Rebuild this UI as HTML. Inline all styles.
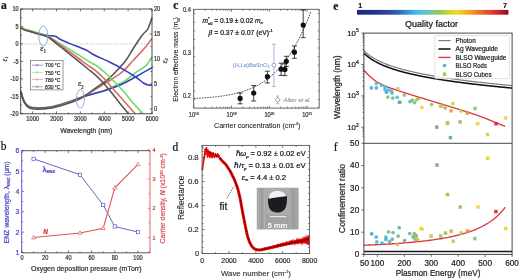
<!DOCTYPE html><html><head><meta charset="utf-8"><style>html,body{margin:0;padding:0;background:#fff;}svg{display:block;filter:blur(0.3px)} text{paint-order:stroke;stroke:currentColor;stroke-width:0.22px;stroke-linejoin:round}</style></head><body>
<svg width="520" height="279" viewBox="0 0 520 279">
<rect width="520" height="279" fill="#fff"/>
<text x="0.9" y="9.2" font-size="11.5" text-anchor="start" fill="#111" color="#111" font-family="'Liberation Serif', 'Times New Roman', serif" font-weight="bold">a</text>
<text x="0.7" y="150.2" font-size="11.5" text-anchor="start" fill="#111" color="#111" font-family="'Liberation Serif', 'Times New Roman', serif" >b</text>
<text x="173.2" y="9.4" font-size="11.5" text-anchor="start" fill="#111" color="#111" font-family="'Liberation Serif', 'Times New Roman', serif" font-weight="bold">c</text>
<text x="172.5" y="150.6" font-size="11.5" text-anchor="start" fill="#111" color="#111" font-family="'Liberation Serif', 'Times New Roman', serif" >d</text>
<text x="333.3" y="9.6" font-size="11.5" text-anchor="start" fill="#111" color="#111" font-family="'Liberation Serif', 'Times New Roman', serif" font-weight="bold">e</text>
<text x="333.8" y="150.6" font-size="11.5" text-anchor="start" fill="#111" color="#111" font-family="'Liberation Serif', 'Times New Roman', serif" >f</text>
<line x1="20.7" y1="43.93" x2="152" y2="43.93" stroke="#aaa" stroke-width="0.7" stroke-dasharray="1.5,1.5"/>
<path d="M20.7 113.8 v-1.4 M20.7 9 v1.4 M32.64 113.8 v-2.4 M32.64 9 v2.4 M44.57 113.8 v-1.4 M44.57 9 v1.4 M56.51 113.8 v-2.4 M56.51 9 v2.4 M68.45 113.8 v-1.4 M68.45 9 v1.4 M80.38 113.8 v-2.4 M80.38 9 v2.4 M92.32 113.8 v-1.4 M92.32 9 v1.4 M104.25 113.8 v-2.4 M104.25 9 v2.4 M116.19 113.8 v-1.4 M116.19 9 v1.4 M128.13 113.8 v-2.4 M128.13 9 v2.4 M140.06 113.8 v-1.4 M140.06 9 v1.4 M152 113.8 v-2.4 M152 9 v2.4 M20.7 9 h2.4 M20.7 17.73 h1.4 M20.7 26.47 h2.4 M20.7 35.2 h1.4 M20.7 43.93 h2.4 M20.7 52.67 h1.4 M20.7 61.4 h2.4 M20.7 70.13 h1.4 M20.7 78.87 h2.4 M20.7 87.6 h1.4 M20.7 96.33 h2.4 M20.7 105.07 h1.4 M20.7 113.8 h2.4 M152 109 h-2.4 M152 96.5 h-1.4 M152 84 h-2.4 M152 71.5 h-1.4 M152 59 h-2.4 M152 46.5 h-1.4 M152 34 h-2.4 M152 21.5 h-1.4 M152 9 h-2.4" stroke="#3a3a3a" stroke-width="0.7" fill="none"/>
<path d="M21 90.8 C21.25 91.8 21.83 94.88 22.5 96.8 C23.17 98.72 24.08 100.83 25 102.3 C25.92 103.77 26.78 104.77 28 105.6 C29.22 106.43 30.3 106.95 32.3 107.3 C34.3 107.65 37.05 107.77 40 107.7 C42.95 107.63 46.67 107.43 50 106.9 C53.33 106.37 56.67 105.43 60 104.5 C63.33 103.57 66.83 102.4 70 101.3 C73.17 100.2 76.33 98.9 79 97.9 C81.67 96.9 83.33 96.1 86 95.3 C88.67 94.5 91.77 94.02 95 93.12 C98.23 92.22 102.07 91.15 105.4 89.9 C108.73 88.65 111.9 87.02 115 85.6 C118.1 84.18 120.45 83.63 124 81.4 C127.55 79.17 132.68 74.8 136.3 72.2 C139.92 69.6 143.3 67.95 145.7 65.8 C148.1 63.65 149.65 60.85 150.7 59.3 C151.75 57.75 151.78 56.97 152 56.5" stroke="#62dc62" stroke-width="1.55" fill="none" stroke-linejoin="round"/>
<path d="M21 91.25 C21.25 92.25 21.83 95.33 22.5 97.25 C23.17 99.17 24.08 101.28 25 102.75 C25.92 104.22 26.78 105.22 28 106.05 C29.22 106.88 30.3 107.4 32.3 107.75 C34.3 108.1 37.05 108.22 40 108.15 C42.95 108.08 46.67 107.88 50 107.35 C53.33 106.82 56.67 105.88 60 104.95 C63.33 104.02 66.83 102.85 70 101.75 C73.17 100.65 76.33 99.32 79 98.35 C81.67 97.38 82.83 96.92 86 95.95 C89.17 94.98 94.05 93.71 98 92.55 C101.95 91.39 105.37 90.56 109.7 89 C114.03 87.44 119.57 85.28 124 83.2 C128.43 81.12 131.73 79.05 136.3 76.5 C140.87 73.95 148.78 69.38 151.4 67.9 C154.02 66.42 151.9 67.65 152 67.6" stroke="#3b3bc4" stroke-width="1.55" fill="none" stroke-linejoin="round"/>
<path d="M21 91.8 C21.25 92.8 21.83 95.88 22.5 97.8 C23.17 99.72 24.08 101.83 25 103.3 C25.92 104.77 26.78 105.77 28 106.6 C29.22 107.43 30.3 107.95 32.3 108.3 C34.3 108.65 37.05 108.77 40 108.7 C42.95 108.63 46.67 108.43 50 107.9 C53.33 107.37 56.67 106.43 60 105.5 C63.33 104.57 66.83 103.4 70 102.3 C73.17 101.2 76.33 100.1 79 98.9 C81.67 97.7 83.67 96.46 86 95.1 C88.33 93.74 90.47 92.31 93 90.76 C95.53 89.21 98.03 87.76 101.2 85.8 C104.37 83.84 108.4 81.38 112 79 C115.6 76.62 119.23 74.63 122.8 71.5 C126.37 68.37 129.82 64.02 133.4 60.2 C136.98 56.38 141.4 51.97 144.3 48.6 C147.2 45.23 149.52 41.68 150.8 40 C152.08 38.32 151.8 38.75 152 38.5" stroke="#e06464" stroke-width="1.55" fill="none" stroke-linejoin="round"/>
<path d="M21 92.2 C21.25 93.2 21.83 96.28 22.5 98.2 C23.17 100.12 24.08 102.23 25 103.7 C25.92 105.17 26.78 106.17 28 107 C29.22 107.83 30.3 108.35 32.3 108.7 C34.3 109.05 37.05 109.17 40 109.1 C42.95 109.03 46.67 108.83 50 108.3 C53.33 107.77 56.67 106.83 60 105.9 C63.33 104.97 66.83 103.8 70 102.7 C73.17 101.6 76.33 100.6 79 99.3 C81.67 98 83.67 96.47 86 94.9 C88.33 93.33 90.47 91.66 93 89.87 C95.53 88.09 98.7 85.96 101.2 84.2 C103.7 82.44 105.53 81.42 108 79.3 C110.47 77.18 113 74.68 116 71.5 C119 68.32 123.07 64.12 126 60.2 C128.93 56.28 130.9 52.15 133.6 48 C136.3 43.85 139.87 38.42 142.2 35.3 C144.53 32.18 146.17 31.65 147.6 29.3 C149.03 26.95 150.07 23.17 150.8 21.2 C151.53 19.23 151.8 18.12 152 17.5" stroke="#545454" stroke-width="1.55" fill="none" stroke-linejoin="round"/>
<path d="M21 27 C21.5 27.35 22.5 28.47 24 29.1 C25.5 29.73 27.33 30.02 30 30.8 C32.67 31.58 37 33.03 40 33.8 C43 34.57 45.83 35.11 48 35.44 C50.17 35.77 51.58 35.59 53 35.81 C54.42 36.03 55.33 36.19 56.5 36.75 C57.67 37.32 57.75 38.06 60 39.2 C62.25 40.34 65.67 41.8 70 43.6 C74.33 45.4 81.95 48.1 86 50 C90.05 51.9 90.3 52.97 94.3 55 C98.3 57.03 105.38 59.93 110 62.2 C114.62 64.47 117.85 66.22 122 68.6 C126.15 70.98 131.32 74.1 134.9 76.5 C138.48 78.9 141.23 81.58 143.5 83 C145.77 84.42 147.08 84.65 148.5 85 C149.92 85.35 151.42 85.08 152 85.1" stroke="#3b3bc4" stroke-width="1.55" fill="none" stroke-linejoin="round"/>
<path d="M21 26.7 C21.5 27.05 22.5 28.17 24 28.8 C25.5 29.43 27.33 29.72 30 30.5 C32.67 31.28 37 32.57 40 33.5 C43 34.43 44.67 34.42 48 36.1 C51.33 37.78 56.33 41.35 60 43.6 C63.67 45.85 66.67 47.57 70 49.6 C73.33 51.63 76.67 53.7 80 55.8 C83.33 57.9 87.5 60.7 90 62.2 C92.5 63.7 93.33 63.78 95 64.8 C96.67 65.82 97.5 66.23 100 68.3 C102.5 70.37 106.05 73.33 110 77.2 C113.95 81.07 119.87 87.2 123.7 91.5 C127.53 95.8 129.77 99.28 133 103 C136.23 106.72 141.42 112 143.1 113.8" stroke="#62dc62" stroke-width="1.55" fill="none" stroke-linejoin="round"/>
<path d="M21 27.45 C21.5 27.8 22.5 28.92 24 29.55 C25.5 30.18 27.33 30.47 30 31.25 C32.67 32.03 37 33.34 40 34.25 C43 35.16 44.67 34.91 48 36.7 C51.33 38.49 56.33 42.42 60 45 C63.67 47.58 66.67 49.78 70 52.2 C73.33 54.62 77 57.32 80 59.5 C83 61.68 85.5 63.52 88 65.3 C90.5 67.08 92.33 68 95 70.2 C97.67 72.4 100.67 75.03 104 78.5 C107.33 81.97 111.5 87.05 115 91 C118.5 94.95 121.58 98.37 125 102.2 C128.42 106.03 133.75 112.03 135.5 114" stroke="#e06464" stroke-width="1.55" fill="none" stroke-linejoin="round"/>
<path d="M21 27.8 C21.5 28.15 22.5 29.27 24 29.9 C25.5 30.53 27.33 30.82 30 31.6 C32.67 32.38 37 33.7 40 34.6 C43 35.5 44.67 35 48 36.98 C51.33 38.96 56.33 43.61 60 46.5 C63.67 49.39 66.67 51.65 70 54.3 C73.33 56.95 77 59.95 80 62.4 C83 64.85 85.5 66.97 88 69 C90.5 71.03 92.67 72.52 95 74.6 C97.33 76.68 99.33 78.6 102 81.5 C104.67 84.4 108 88.35 111 92 C114 95.65 117.05 99.73 120 103.4 C122.95 107.07 127.25 112.23 128.7 114" stroke="#545454" stroke-width="1.55" fill="none" stroke-linejoin="round"/>
<rect x="20.7" y="9" width="131.3" height="104.8" fill="none" stroke="#3a3a3a" stroke-width="0.9"/>
<ellipse cx="43.3" cy="36" rx="4.5" ry="10" fill="none" stroke="#88a4cc" stroke-width="0.9"/>
<ellipse cx="80.4" cy="98.9" rx="4" ry="9.3" fill="none" stroke="#88a4cc" stroke-width="0.9"/>
<text x="40.3" y="50.9" font-size="8" text-anchor="start" fill="#333" color="#333" font-family="'Liberation Serif', 'Times New Roman', serif" font-style="italic">&#949;<tspan font-size="5.2" dy="2.3" font-style="normal">1</tspan></text>
<text x="77.9" y="86.2" font-size="8" text-anchor="start" fill="#333" color="#333" font-family="'Liberation Serif', 'Times New Roman', serif" font-style="italic">&#949;<tspan font-size="5.2" dy="2.3" font-style="normal">2</tspan></text>
<rect x="30.5" y="60.3" width="32.5" height="29.6" fill="#fff" stroke="#555" stroke-width="0.6"/>
<line x1="31.8" y1="65.2" x2="43" y2="65.2" stroke="#3b3bc4" stroke-width="0.7" opacity="0.75"/>
<rect x="36.3" y="64.3" width="1.8" height="1.8" fill="none" stroke="#3b3bc4" stroke-width="0.4" opacity="0.6"/>
<text x="45.1" y="67.3" font-size="6" text-anchor="start" fill="#222" color="#222" font-family="'Liberation Sans', Arial, sans-serif"  textLength="15.4" lengthAdjust="spacingAndGlyphs">700 &#176;C</text>
<line x1="31.8" y1="72.4" x2="43" y2="72.4" stroke="#62dc62" stroke-width="0.7" opacity="0.75"/>
<rect x="36.3" y="71.5" width="1.8" height="1.8" fill="none" stroke="#62dc62" stroke-width="0.4" opacity="0.6"/>
<text x="45.1" y="74.5" font-size="6" text-anchor="start" fill="#222" color="#222" font-family="'Liberation Sans', Arial, sans-serif"  textLength="15.4" lengthAdjust="spacingAndGlyphs">750 &#176;C</text>
<line x1="31.8" y1="79.6" x2="43" y2="79.6" stroke="#e06464" stroke-width="0.7" opacity="0.75"/>
<rect x="36.3" y="78.7" width="1.8" height="1.8" fill="none" stroke="#e06464" stroke-width="0.4" opacity="0.6"/>
<text x="45.1" y="81.7" font-size="6" text-anchor="start" fill="#222" color="#222" font-family="'Liberation Sans', Arial, sans-serif"  textLength="15.4" lengthAdjust="spacingAndGlyphs">780 &#176;C</text>
<line x1="31.8" y1="86.8" x2="43" y2="86.8" stroke="#545454" stroke-width="0.7" opacity="0.75"/>
<rect x="36.3" y="85.9" width="1.8" height="1.8" fill="none" stroke="#545454" stroke-width="0.4" opacity="0.6"/>
<text x="45.1" y="88.9" font-size="6" text-anchor="start" fill="#222" color="#222" font-family="'Liberation Sans', Arial, sans-serif"  textLength="15.4" lengthAdjust="spacingAndGlyphs">830 &#176;C</text>
<text x="12.38" y="11.3" font-size="6.4" text-anchor="start" fill="#333" color="#333" font-family="'Liberation Sans', Arial, sans-serif"  textLength="6.22" lengthAdjust="spacingAndGlyphs">10</text>
<text x="15.49" y="28.77" font-size="6.4" text-anchor="start" fill="#333" color="#333" font-family="'Liberation Sans', Arial, sans-serif"  textLength="3.11" lengthAdjust="spacingAndGlyphs">5</text>
<text x="15.49" y="46.23" font-size="6.4" text-anchor="start" fill="#333" color="#333" font-family="'Liberation Sans', Arial, sans-serif"  textLength="3.11" lengthAdjust="spacingAndGlyphs">0</text>
<text x="13.62" y="63.7" font-size="6.4" text-anchor="start" fill="#333" color="#333" font-family="'Liberation Sans', Arial, sans-serif"  textLength="4.98" lengthAdjust="spacingAndGlyphs">-5</text>
<text x="10.51" y="81.17" font-size="6.4" text-anchor="start" fill="#333" color="#333" font-family="'Liberation Sans', Arial, sans-serif"  textLength="8.09" lengthAdjust="spacingAndGlyphs">-10</text>
<text x="10.51" y="98.63" font-size="6.4" text-anchor="start" fill="#333" color="#333" font-family="'Liberation Sans', Arial, sans-serif"  textLength="8.09" lengthAdjust="spacingAndGlyphs">-15</text>
<text x="10.51" y="116.1" font-size="6.4" text-anchor="start" fill="#333" color="#333" font-family="'Liberation Sans', Arial, sans-serif"  textLength="8.09" lengthAdjust="spacingAndGlyphs">-20</text>
<text x="154" y="11.3" font-size="6.4" text-anchor="start" fill="#333" color="#333" font-family="'Liberation Sans', Arial, sans-serif"  textLength="6.22" lengthAdjust="spacingAndGlyphs">20</text>
<text x="154" y="36.3" font-size="6.4" text-anchor="start" fill="#333" color="#333" font-family="'Liberation Sans', Arial, sans-serif"  textLength="6.22" lengthAdjust="spacingAndGlyphs">15</text>
<text x="154" y="61.3" font-size="6.4" text-anchor="start" fill="#333" color="#333" font-family="'Liberation Sans', Arial, sans-serif"  textLength="6.22" lengthAdjust="spacingAndGlyphs">10</text>
<text x="154" y="86.3" font-size="6.4" text-anchor="start" fill="#333" color="#333" font-family="'Liberation Sans', Arial, sans-serif"  textLength="3.11" lengthAdjust="spacingAndGlyphs">5</text>
<text x="154" y="111.3" font-size="6.4" text-anchor="start" fill="#333" color="#333" font-family="'Liberation Sans', Arial, sans-serif"  textLength="3.11" lengthAdjust="spacingAndGlyphs">0</text>
<text x="26.34" y="121" font-size="6.4" text-anchor="start" fill="#333" color="#333" font-family="'Liberation Sans', Arial, sans-serif"  textLength="12.6" lengthAdjust="spacingAndGlyphs">1000</text>
<text x="50.21" y="121" font-size="6.4" text-anchor="start" fill="#333" color="#333" font-family="'Liberation Sans', Arial, sans-serif"  textLength="12.6" lengthAdjust="spacingAndGlyphs">2000</text>
<text x="74.08" y="121" font-size="6.4" text-anchor="start" fill="#333" color="#333" font-family="'Liberation Sans', Arial, sans-serif"  textLength="12.6" lengthAdjust="spacingAndGlyphs">3000</text>
<text x="97.95" y="121" font-size="6.4" text-anchor="start" fill="#333" color="#333" font-family="'Liberation Sans', Arial, sans-serif"  textLength="12.6" lengthAdjust="spacingAndGlyphs">4000</text>
<text x="121.83" y="121" font-size="6.4" text-anchor="start" fill="#333" color="#333" font-family="'Liberation Sans', Arial, sans-serif"  textLength="12.6" lengthAdjust="spacingAndGlyphs">5000</text>
<text x="145.7" y="121" font-size="6.4" text-anchor="start" fill="#333" color="#333" font-family="'Liberation Sans', Arial, sans-serif"  textLength="12.6" lengthAdjust="spacingAndGlyphs">6000</text>
<text x="86.3" y="132.6" font-size="6.9" text-anchor="middle" fill="#333" color="#333" font-family="'Liberation Sans', Arial, sans-serif" >Wavelength (nm)</text>
<g transform="translate(6.8,58.9) rotate(-90)"><text x="0" y="0" font-size="7.2" text-anchor="middle" fill="#444" color="#444" font-family="'Liberation Serif', 'Times New Roman', serif" font-style="italic">&#949;<tspan font-size="4.4" dy="1.5">1</tspan></text></g>
<g transform="translate(166.6,60.8) rotate(-90)"><text x="0" y="0" font-size="7.2" text-anchor="middle" fill="#444" color="#444" font-family="'Liberation Serif', 'Times New Roman', serif" font-style="italic">&#949;<tspan font-size="4.4" dy="1.5">2</tspan></text></g>
<path d="M22 252.8 v-2.4 M22 150.7 v2.4 M33.6 252.8 v-1.4 M33.6 150.7 v1.4 M45.2 252.8 v-2.4 M45.2 150.7 v2.4 M56.8 252.8 v-1.4 M56.8 150.7 v1.4 M68.4 252.8 v-2.4 M68.4 150.7 v2.4 M80 252.8 v-1.4 M80 150.7 v1.4 M91.6 252.8 v-2.4 M91.6 150.7 v2.4 M103.2 252.8 v-1.4 M103.2 150.7 v1.4 M114.8 252.8 v-2.4 M114.8 150.7 v2.4 M126.4 252.8 v-1.4 M126.4 150.7 v1.4 M138 252.8 v-2.4 M138 150.7 v2.4 M149.6 252.8 v-1.4 M149.6 150.7 v1.4" stroke="#444" stroke-width="0.7" fill="none"/>
<path d="M21.7 150.7 h2.4 M21.7 160.88 h1.4 M21.7 171.06 h2.4 M21.7 181.24 h1.4 M21.7 191.42 h2.4 M21.7 201.6 h1.4 M21.7 211.78 h2.4 M21.7 221.96 h1.4 M21.7 232.14 h2.4 M21.7 242.32 h1.4 M21.7 252.5 h2.4" stroke="#4a4ac4" stroke-width="0.7" fill="none"/>
<path d="M150 149.7 h-2.4 M150 164.35 h-1.4 M150 179 h-2.4 M150 193.65 h-1.4 M150 208.3 h-2.4 M150 222.95 h-1.4 M150 237.6 h-2.4 M150 252.25 h-1.4" stroke="#dc5454" stroke-width="0.7" fill="none"/>
<line x1="21.7" y1="150.7" x2="150" y2="150.7" stroke="#444" stroke-width="0.9"/>
<line x1="21.7" y1="252.8" x2="150" y2="252.8" stroke="#444" stroke-width="0.9"/>
<line x1="21.7" y1="150.7" x2="21.7" y2="252.8" stroke="#4a4ac4" stroke-width="0.9"/>
<line x1="150" y1="150.7" x2="150" y2="252.8" stroke="#dc5454" stroke-width="0.9"/>
<path d="M33.6 158.84 L80 174.72 L103.2 205.06 L114.8 226.44 L138 232.14" stroke="#4a4ac4" stroke-width="0.85" fill="none"/>
<path d="M33.6 237.6 L80 232.91 L103.2 228.22 L114.8 187.79 L138 164.35" stroke="#dc5454" stroke-width="1.05" fill="none"/>
<rect x="31.95" y="157.19" width="3.3" height="3.3" fill="#fff" stroke="#4a4ac4" stroke-width="0.65"/>
<rect x="78.35" y="173.07" width="3.3" height="3.3" fill="#fff" stroke="#4a4ac4" stroke-width="0.65"/>
<rect x="101.55" y="203.41" width="3.3" height="3.3" fill="#fff" stroke="#4a4ac4" stroke-width="0.65"/>
<rect x="113.15" y="224.79" width="3.3" height="3.3" fill="#fff" stroke="#4a4ac4" stroke-width="0.65"/>
<rect x="136.35" y="230.49" width="3.3" height="3.3" fill="#fff" stroke="#4a4ac4" stroke-width="0.65"/>
<path d="M33.6 235.5 l2 3.4 h-4 z" fill="#fff" stroke="#dc5454" stroke-width="0.7"/>
<path d="M80 230.81 l2 3.4 h-4 z" fill="#fff" stroke="#dc5454" stroke-width="0.7"/>
<path d="M103.2 226.12 l2 3.4 h-4 z" fill="#fff" stroke="#dc5454" stroke-width="0.7"/>
<path d="M114.8 185.69 l2 3.4 h-4 z" fill="#fff" stroke="#dc5454" stroke-width="0.7"/>
<path d="M138 162.25 l2 3.4 h-4 z" fill="#fff" stroke="#dc5454" stroke-width="0.7"/>
<text x="42.6" y="172.4" font-size="6.6" text-anchor="start" fill="#4a4ac4" color="#4a4ac4" font-family="'Liberation Sans', Arial, sans-serif" font-weight="bold" textLength="12.5" lengthAdjust="spacingAndGlyphs">&#955;<tspan font-size="4.2" dy="0.9">ENZ</tspan></text>
<text x="43.2" y="234" font-size="6.4" text-anchor="start" fill="#c83434" color="#c83434" font-family="'Liberation Sans', Arial, sans-serif" font-weight="bold" font-style="italic">N</text>
<text x="19.4" y="153.2" font-size="7" text-anchor="end" fill="#4a4ac4" color="#4a4ac4" font-family="'Liberation Sans', Arial, sans-serif" >6</text>
<text x="19.4" y="173.56" font-size="7" text-anchor="end" fill="#4a4ac4" color="#4a4ac4" font-family="'Liberation Sans', Arial, sans-serif" >5</text>
<text x="19.4" y="193.92" font-size="7" text-anchor="end" fill="#4a4ac4" color="#4a4ac4" font-family="'Liberation Sans', Arial, sans-serif" >4</text>
<text x="19.4" y="214.28" font-size="7" text-anchor="end" fill="#4a4ac4" color="#4a4ac4" font-family="'Liberation Sans', Arial, sans-serif" >3</text>
<text x="19.4" y="234.64" font-size="7" text-anchor="end" fill="#4a4ac4" color="#4a4ac4" font-family="'Liberation Sans', Arial, sans-serif" >2</text>
<text x="19.4" y="255" font-size="7" text-anchor="end" fill="#4a4ac4" color="#4a4ac4" font-family="'Liberation Sans', Arial, sans-serif" >1</text>
<text x="152.4" y="151.6" font-size="5.3" text-anchor="start" fill="#c84040" color="#c84040" font-family="'Liberation Sans', Arial, sans-serif" >4</text>
<text x="152.4" y="180.9" font-size="5.3" text-anchor="start" fill="#c84040" color="#c84040" font-family="'Liberation Sans', Arial, sans-serif" >3</text>
<text x="152.4" y="210.2" font-size="5.3" text-anchor="start" fill="#c84040" color="#c84040" font-family="'Liberation Sans', Arial, sans-serif" >2</text>
<text x="152.4" y="239.5" font-size="5.3" text-anchor="start" fill="#c84040" color="#c84040" font-family="'Liberation Sans', Arial, sans-serif" >1</text>
<text x="20.45" y="260.2" font-size="6.5" text-anchor="start" fill="#333" color="#333" font-family="'Liberation Sans', Arial, sans-serif"  textLength="3.1" lengthAdjust="spacingAndGlyphs">0</text>
<text x="42.1" y="260.2" font-size="6.5" text-anchor="start" fill="#333" color="#333" font-family="'Liberation Sans', Arial, sans-serif"  textLength="6.2" lengthAdjust="spacingAndGlyphs">20</text>
<text x="65.3" y="260.2" font-size="6.5" text-anchor="start" fill="#333" color="#333" font-family="'Liberation Sans', Arial, sans-serif"  textLength="6.2" lengthAdjust="spacingAndGlyphs">40</text>
<text x="88.5" y="260.2" font-size="6.5" text-anchor="start" fill="#333" color="#333" font-family="'Liberation Sans', Arial, sans-serif"  textLength="6.2" lengthAdjust="spacingAndGlyphs">60</text>
<text x="111.7" y="260.2" font-size="6.5" text-anchor="start" fill="#333" color="#333" font-family="'Liberation Sans', Arial, sans-serif"  textLength="6.2" lengthAdjust="spacingAndGlyphs">80</text>
<text x="133.35" y="260.2" font-size="6.5" text-anchor="start" fill="#333" color="#333" font-family="'Liberation Sans', Arial, sans-serif"  textLength="9.3" lengthAdjust="spacingAndGlyphs">100</text>
<text x="30.9" y="271.4" font-size="6.9" text-anchor="start" fill="#333" color="#333" font-family="'Liberation Sans', Arial, sans-serif"  textLength="110.8" lengthAdjust="spacingAndGlyphs">Oxygen deposition pressure (mTorr)</text>
<g transform="translate(9.1,243.4) rotate(-90)"><text x="0" y="0" font-size="6.9" text-anchor="start" fill="#4a4ac4" color="#4a4ac4" font-family="'Liberation Sans', Arial, sans-serif"  textLength="82" lengthAdjust="spacingAndGlyphs">ENZ wavelength, &#955;<tspan font-size="4.2" dy="0.9">ENZ</tspan><tspan dy="-0.9"> (&#956;m)</tspan></text></g>
<g transform="translate(165.2,243.4) rotate(-90)"><text x="0" y="0" font-size="6.9" text-anchor="start" fill="#dc5454" color="#dc5454" font-family="'Liberation Sans', Arial, sans-serif"  textLength="90.2" lengthAdjust="spacingAndGlyphs">Carrier density, <tspan font-weight="bold" font-style="italic">N</tspan> (x10<tspan font-size="4.2" dy="-2.2">20</tspan><tspan dy="2.2"> cm</tspan><tspan font-size="4.2" dy="-2.2">-3</tspan><tspan dy="2.2">)</tspan></text></g>
<path d="M193.7 108.1 v-2.6 M193.7 9.3 v2.6 M205.08 108.1 v-1.5 M205.08 9.3 v1.5 M211.74 108.1 v-1.5 M211.74 9.3 v1.5 M216.46 108.1 v-1.5 M216.46 9.3 v1.5 M220.12 108.1 v-1.5 M220.12 9.3 v1.5 M223.11 108.1 v-1.5 M223.11 9.3 v1.5 M225.64 108.1 v-1.5 M225.64 9.3 v1.5 M227.84 108.1 v-1.5 M227.84 9.3 v1.5 M229.77 108.1 v-1.5 M229.77 9.3 v1.5 M231.5 108.1 v-2.6 M231.5 9.3 v2.6 M242.88 108.1 v-1.5 M242.88 9.3 v1.5 M249.54 108.1 v-1.5 M249.54 9.3 v1.5 M254.26 108.1 v-1.5 M254.26 9.3 v1.5 M257.92 108.1 v-1.5 M257.92 9.3 v1.5 M260.91 108.1 v-1.5 M260.91 9.3 v1.5 M263.44 108.1 v-1.5 M263.44 9.3 v1.5 M265.64 108.1 v-1.5 M265.64 9.3 v1.5 M267.57 108.1 v-1.5 M267.57 9.3 v1.5 M269.3 108.1 v-2.6 M269.3 9.3 v2.6 M280.68 108.1 v-1.5 M280.68 9.3 v1.5 M287.34 108.1 v-1.5 M287.34 9.3 v1.5 M292.06 108.1 v-1.5 M292.06 9.3 v1.5 M295.72 108.1 v-1.5 M295.72 9.3 v1.5 M298.71 108.1 v-1.5 M298.71 9.3 v1.5 M301.24 108.1 v-1.5 M301.24 9.3 v1.5 M303.44 108.1 v-1.5 M303.44 9.3 v1.5 M305.37 108.1 v-1.5 M305.37 9.3 v1.5 M307.1 108.1 v-2.6 M307.1 9.3 v2.6 M318.48 108.1 v-1.5 M318.48 9.3 v1.5 M193.7 99.6 h1.5 M319.2 99.6 h-1.5 M193.7 91 h1.5 M319.2 91 h-1.5 M193.7 82.4 h1.5 M319.2 82.4 h-1.5 M193.7 73.8 h1.5 M319.2 73.8 h-1.5 M193.7 65.2 h1.5 M319.2 65.2 h-1.5 M193.7 56.6 h1.5 M319.2 56.6 h-1.5 M193.7 48 h1.5 M319.2 48 h-1.5 M193.7 39.4 h1.5 M319.2 39.4 h-1.5 M193.7 30.8 h1.5 M319.2 30.8 h-1.5 M193.7 22.2 h1.5 M319.2 22.2 h-1.5 M193.7 13.6 h1.5 M319.2 13.6 h-1.5" stroke="#555" stroke-width="0.7" fill="none"/>
<rect x="193.7" y="9.3" width="125.5" height="98.8" fill="none" stroke="#555" stroke-width="0.9"/>
<path d="M193.7 98.45 L195.59 98.36 L197.48 98.26 L199.37 98.15 L201.26 98.04 L203.15 97.91 L205.04 97.78 L206.93 97.64 L208.82 97.48 L210.71 97.32 L212.6 97.14 L214.49 96.94 L216.38 96.74 L218.27 96.51 L220.16 96.27 L222.05 96.01 L223.94 95.73 L225.83 95.43 L227.72 95.1 L229.61 94.76 L231.5 94.38 L233.39 93.98 L235.28 93.55 L237.17 93.08 L239.06 92.58 L240.95 92.05 L242.84 91.47 L244.73 90.85 L246.62 90.19 L248.51 89.48 L250.4 88.72 L252.29 87.91 L254.18 87.04 L256.07 86.11 L257.96 85.11 L259.85 84.05 L261.74 82.92 L263.63 81.71 L265.52 80.41 L267.41 79.04 L269.3 77.57 L271.19 76.02 L273.08 74.36 L274.97 72.6 L276.86 70.73 L278.75 68.74 L280.64 66.64 L282.53 64.41 L284.42 62.04 L286.31 59.55 L288.2 56.91 L290.09 54.12 L291.98 51.17 L293.87 48.06 L295.76 44.79 L297.65 41.34 L299.54 37.7 L301.43 33.88 L303.32 29.86 L305.21 25.64 L307.1 21.2 L308.99 16.55 L310.88 11.66" stroke="#222" stroke-width="0.85" fill="none" stroke-dasharray="1.6,1.1"/>
<path d="M240.1 93 V103.8 M237.6 93 h5 M237.6 103.8 h5" stroke="#222" stroke-width="0.85" fill="none"/>
<path d="M253.7 85.5 V101 M251.2 85.5 h5 M251.2 101 h5" stroke="#222" stroke-width="0.85" fill="none"/>
<path d="M267.4 71.2 V83 M264.9 71.2 h5 M264.9 83 h5" stroke="#222" stroke-width="0.85" fill="none"/>
<path d="M281.1 63.2 V75.4 M278.6 63.2 h5 M278.6 75.4 h5" stroke="#222" stroke-width="0.85" fill="none"/>
<path d="M284.9 63.8 V75.6 M282.4 63.8 h5 M282.4 75.6 h5" stroke="#222" stroke-width="0.85" fill="none"/>
<path d="M286.3 56.3 V66.5 M283.8 56.3 h5 M283.8 66.5 h5" stroke="#222" stroke-width="0.85" fill="none"/>
<path d="M294.4 46 V58.3 M291.9 46 h5 M291.9 58.3 h5" stroke="#222" stroke-width="0.85" fill="none"/>
<path d="M303.2 10 V37.7 M300.7 10 h5 M300.7 37.7 h5" stroke="#222" stroke-width="0.85" fill="none"/>
<circle cx="240.1" cy="98.4" r="2.6" fill="#111"/>
<circle cx="253.7" cy="93" r="2.6" fill="#111"/>
<circle cx="267.4" cy="76.7" r="2.6" fill="#111"/>
<circle cx="281.1" cy="69.2" r="2.6" fill="#111"/>
<circle cx="284.9" cy="69.4" r="2.6" fill="#111"/>
<circle cx="286.3" cy="61.3" r="2.6" fill="#111"/>
<circle cx="294.4" cy="52.2" r="2.6" fill="#111"/>
<circle cx="303.2" cy="25.1" r="2.6" fill="#111"/>
<path d="M273.9 44.2 V86.4 M271.9 44.2 h4 M271.9 86.4 h4" stroke="#7f98cc" stroke-width="0.7" fill="none"/>
<circle cx="273.9" cy="65.2" r="1.9" fill="#fff" stroke="#7f98cc" stroke-width="0.8"/>
<text x="232.8" y="67.2" font-size="5.8" text-anchor="start" fill="#6f8fd0" color="#6f8fd0" font-family="'Liberation Sans', Arial, sans-serif" style="stroke-width:0.08px" textLength="36.9" lengthAdjust="spacingAndGlyphs">(H,La)BaSnO<tspan font-size="3.8" dy="1">3</tspan></text>
<path d="M277.6 96 V103.8 M276.2 96 h2.8 M276.2 103.8 h2.8" stroke="#888" stroke-width="0.6" fill="none"/>
<path d="M277.6 97.3 l2.5 2.5 l-2.5 2.5 l-2.5 -2.5 z" fill="#fff" stroke="#8a8a8a" stroke-width="0.9"/>
<text x="283.6" y="101.9" font-size="6.2" text-anchor="start" fill="#8c8c8c" color="#8c8c8c" font-family="'Liberation Sans', Arial, sans-serif" style="stroke-width:0.08px" font-style="italic" textLength="27.4" lengthAdjust="spacingAndGlyphs">Allen et al.</text>
<text x="202.4" y="22.8" font-size="7" text-anchor="start" fill="#111" color="#111" font-family="'Liberation Sans', Arial, sans-serif"  textLength="60.3" lengthAdjust="spacingAndGlyphs"><tspan font-style="italic">m</tspan><tspan font-size="4.2" dy="-2.6">*</tspan><tspan font-size="4.2" dx="-1.6" dy="4.4">e0</tspan><tspan dy="-1.8"> = 0.19 &#177; 0.02 </tspan><tspan font-style="italic">m</tspan><tspan font-size="4.2" dy="1.4">e</tspan></text>
<text x="208.5" y="35" font-size="7" text-anchor="start" fill="#111" color="#111" font-family="'Liberation Sans', Arial, sans-serif"  textLength="64.2" lengthAdjust="spacingAndGlyphs"><tspan font-style="italic">&#946;</tspan> = 0.37 &#177; 0.07 (eV)<tspan font-size="4.2" dy="-2.6">-1</tspan></text>
<text x="182.9" y="11.7" font-size="6.6" text-anchor="start" fill="#333" color="#333" font-family="'Liberation Sans', Arial, sans-serif"  textLength="7.9" lengthAdjust="spacingAndGlyphs">0.4</text>
<text x="182.9" y="54.7" font-size="6.6" text-anchor="start" fill="#333" color="#333" font-family="'Liberation Sans', Arial, sans-serif"  textLength="7.9" lengthAdjust="spacingAndGlyphs">0.3</text>
<text x="182.9" y="97.7" font-size="6.6" text-anchor="start" fill="#333" color="#333" font-family="'Liberation Sans', Arial, sans-serif"  textLength="7.9" lengthAdjust="spacingAndGlyphs">0.2</text>
<text x="188.8" y="117.4" font-size="7" text-anchor="start" fill="#333" color="#333" font-family="'Liberation Sans', Arial, sans-serif"  textLength="9.9" lengthAdjust="spacingAndGlyphs">10<tspan font-size="4" dy="-2.9">18</tspan></text>
<text x="226.6" y="117.4" font-size="7" text-anchor="start" fill="#333" color="#333" font-family="'Liberation Sans', Arial, sans-serif"  textLength="9.9" lengthAdjust="spacingAndGlyphs">10<tspan font-size="4" dy="-2.9">19</tspan></text>
<text x="264.4" y="117.4" font-size="7" text-anchor="start" fill="#333" color="#333" font-family="'Liberation Sans', Arial, sans-serif"  textLength="9.9" lengthAdjust="spacingAndGlyphs">10<tspan font-size="4" dy="-2.9">20</tspan></text>
<text x="302.2" y="117.4" font-size="7" text-anchor="start" fill="#333" color="#333" font-family="'Liberation Sans', Arial, sans-serif"  textLength="9.9" lengthAdjust="spacingAndGlyphs">10<tspan font-size="4" dy="-2.9">21</tspan></text>
<text x="214" y="127.8" font-size="7.1" text-anchor="start" fill="#222" color="#222" font-family="'Liberation Sans', Arial, sans-serif" style="stroke-width:0.08px" textLength="86.5" lengthAdjust="spacingAndGlyphs">Carrier concentration (cm<tspan font-size="4.2" dy="-2.6">-3</tspan><tspan dy="2.6">)</tspan></text>
<g transform="translate(178.4,101.8) rotate(-90)"><text x="0" y="0" font-size="6.9" text-anchor="start" fill="#222" color="#222" font-family="'Liberation Sans', Arial, sans-serif" style="stroke-width:0.08px" textLength="84.7" lengthAdjust="spacingAndGlyphs">Electron effective mass (m<tspan font-size="4.2" dy="1.2">0</tspan><tspan dy="-1.2">)</tspan></text></g>
<path d="M202.1 253.5 v-2.6 M202.1 145.4 v2.6 M215.54 253.5 v-1.5 M215.54 145.4 v1.5 M228.97 253.5 v-2.6 M228.97 145.4 v2.6 M242.41 253.5 v-1.5 M242.41 145.4 v1.5 M255.85 253.5 v-2.6 M255.85 145.4 v2.6 M269.29 253.5 v-1.5 M269.29 145.4 v1.5 M282.73 253.5 v-2.6 M282.73 145.4 v2.6 M296.16 253.5 v-1.5 M296.16 145.4 v1.5 M309.6 253.5 v-2.6 M309.6 145.4 v2.6 M202.1 253.5 h2.6 M309.6 253.5 h-2.6 M202.1 247.5 h1.5 M309.6 247.5 h-1.5 M202.1 241.5 h1.5 M309.6 241.5 h-1.5 M202.1 235.5 h1.5 M309.6 235.5 h-1.5 M202.1 229.5 h2.6 M309.6 229.5 h-2.6 M202.1 223.5 h1.5 M309.6 223.5 h-1.5 M202.1 217.5 h1.5 M309.6 217.5 h-1.5 M202.1 211.5 h1.5 M309.6 211.5 h-1.5 M202.1 205.5 h2.6 M309.6 205.5 h-2.6 M202.1 199.5 h1.5 M309.6 199.5 h-1.5 M202.1 193.5 h1.5 M309.6 193.5 h-1.5 M202.1 187.5 h1.5 M309.6 187.5 h-1.5 M202.1 181.5 h2.6 M309.6 181.5 h-2.6 M202.1 175.5 h1.5 M309.6 175.5 h-1.5 M202.1 169.5 h1.5 M309.6 169.5 h-1.5 M202.1 163.5 h1.5 M309.6 163.5 h-1.5 M202.1 157.5 h2.6 M309.6 157.5 h-2.6 M202.1 151.5 h1.5 M309.6 151.5 h-1.5 M202.1 145.5 h1.5 M309.6 145.5 h-1.5" stroke="#555" stroke-width="0.7" fill="none"/>
<rect x="256.8" y="187.8" width="41.8" height="41.6" fill="#a2a2a2"/>
<line x1="258.5" y1="187.8" x2="258.5" y2="229.4" stroke="#b0b0b0" stroke-width="1.2"/>
<line x1="261.5" y1="187.8" x2="261.5" y2="229.4" stroke="#989898" stroke-width="0.8"/>
<line x1="264.5" y1="187.8" x2="264.5" y2="229.4" stroke="#b2b2b2" stroke-width="1"/>
<line x1="290" y1="187.8" x2="290" y2="229.4" stroke="#acacac" stroke-width="1.2"/>
<line x1="293.5" y1="187.8" x2="293.5" y2="229.4" stroke="#969696" stroke-width="0.8"/>
<line x1="296.5" y1="187.8" x2="296.5" y2="229.4" stroke="#a8a8a8" stroke-width="1"/>
<rect x="266" y="187.8" width="23" height="27" fill="#b4b4b4" opacity="0.55"/>
<path d="M268 198.6 C267.6 209.5, 271.5 212.6, 277.5 212.6 C283.5 212.6, 287.4 209.5, 287 196.3 Z" fill="#1b1b22"/>
<path d="M269.2 198.7 C268.6 193.5, 272 191, 277 191 C282 191, 285 192.6, 285.6 196.1 C281 196.9, 274 197.3, 269.2 198.7 Z" fill="#f2f2f2"/>
<line x1="269.8" y1="216.6" x2="286.3" y2="216.6" stroke="#ececec" stroke-width="1.1"/>
<text x="267.5" y="227.6" font-size="7.6" text-anchor="start" fill="#fff" color="#fff" font-family="'Liberation Sans', Arial, sans-serif"  textLength="19.8" lengthAdjust="spacingAndGlyphs">5 mm</text>
<path d="M202.2 170 L203.4 162 L204.4 156 L205.5 150 L206.5 147.8 L207.5 157 L208.7 151.5 L209.8 157.4 L210.8 153.2 L212 157.6 L213 153.4 L214.4 157.4 L215.8 154.6 L217 157 L218 154.4 L219.5 157.6" stroke="#ec0a0a" stroke-width="1.7" fill="none" stroke-linejoin="round"/>
<path d="M219.5 157.6 L221.5 160.2 L225.8 164.5 L230.1 171 L234.4 179.6 L237.6 188.2 L239.8 196.8 L241.3 205 L243 214.3 L245.1 225 L247.2 235 L249.3 241.5 L251.5 245.8 L254 248.6 L257 249.8 L260 250 L264.4 249.2 L270 247.8 L279.8 245.4 L291.7 243 L301.2 241.2 L306 240 L309.4 238.7" stroke="#ec0a0a" stroke-width="2.9" fill="none" stroke-linejoin="round"/>
<path d="M204.2 158 L205 151 L205.8 155 L206.8 149 L207.6 154 L208.4 149.6 L209.2 155.6 L210.2 151 L211 156.6 L211.8 152 L212.8 156 L213.6 152.4 L214.6 156.4 L215.4 153 L216.4 156.6 L217.4 153.2 L218.6 156.6 L219.8 155" stroke="#e80000" stroke-width="0.8" fill="none" stroke-linejoin="round"/>
<path d="M262 248 L270 246.3 L280 243.8 L290 241.3 L300 239.2 L305 237.8 L309.4 235.2 L309.4 245.5 L305 243.6 L300 243.4 L290 244.6 L280 246.9 L270 249.2 L262 250.6 Z" fill="#e00000" opacity="0.95"/>
<path d="M275 245.64 v1.57 M275.58 245.3 v1.71 M276.16 244.74 v0.91 M276.74 245.6 v2.22 M277.32 245.05 v1.25 M277.9 243.61 v1.71 M278.48 243.72 v1.77 M279.06 243.91 v1.21 M279.64 243.76 v2.62 M280.22 243.82 v2.45 M280.8 243.37 v1.14 M281.38 243.02 v2.26 M281.96 243.83 v1.13 M282.54 242.46 v2.12 M283.12 242.61 v3.08 M283.7 242.46 v3.24 M284.28 243.04 v3.04 M284.86 242.77 v3.43 M285.44 241.56 v1.46 M286.02 243.24 v1.79 M286.6 240.99 v2.38 M287.18 241.69 v2.08 M287.76 241.85 v2.35 M288.34 242.12 v2.93 M288.92 241.33 v3.87 M289.5 240.9 v4.01 M290.08 240.24 v4.26 M290.66 240.6 v1.93 M291.24 239.88 v4.34 M291.82 239.57 v3.22 M292.4 239.98 v2.18 M292.98 239.45 v3.35 M293.56 241.01 v1.79 M294.14 239.04 v4.8 M294.72 241.37 v4.26 M295.3 240.17 v2.17 M295.88 240.41 v4.29 M296.46 238.28 v1.87 M297.04 239.01 v1.9 M297.62 238.48 v2.94 M298.2 237.74 v5.31 M298.78 238.93 v5.45 M299.36 239.5 v2.13 M299.94 238.27 v1.99 M300.52 239.64 v3.45 M301.1 237.91 v2.53 M301.68 239.96 v5.34 M302.26 238.76 v5.77 M302.84 236.28 v3.52 M303.42 237.88 v4.14 M304 236.97 v4.5 M304.58 237.16 v4.66 M305.16 235.4 v4.24 M305.74 237.4 v5.21 M306.32 238.08 v3.46 M306.9 234.71 v4.46 M307.48 236.43 v2.26 M308.06 236.87 v4.83 M308.64 238.51 v5.05 M309.22 235.58 v2.57" stroke="#d00000" stroke-width="0.6"/>
<path d="M202.2 146.5 C202.5 146.92 203.2 148.28 204 149 C204.8 149.72 205.67 150.05 207 150.8 C208.33 151.55 210.17 152.55 212 153.5 C213.83 154.45 216.42 155.38 218 156.5 C219.58 157.62 220.2 158.87 221.5 160.2 C222.8 161.53 224.37 162.7 225.8 164.5 C227.23 166.3 228.67 168.48 230.1 171 C231.53 173.52 233.15 176.73 234.4 179.6 C235.65 182.47 236.7 185.33 237.6 188.2 C238.5 191.07 239.18 194 239.8 196.8 C240.42 199.6 240.77 202.08 241.3 205 C241.83 207.92 242.37 210.97 243 214.3 C243.63 217.63 244.4 221.55 245.1 225 C245.8 228.45 246.5 232.25 247.2 235 C247.9 237.75 248.58 239.7 249.3 241.5 C250.02 243.3 250.72 244.62 251.5 245.8 C252.28 246.98 253.08 247.93 254 248.6 C254.92 249.27 256 249.57 257 249.8 C258 250.03 258.77 250.1 260 250 C261.23 249.9 262.73 249.57 264.4 249.2 C266.07 248.83 267.43 248.43 270 247.8 C272.57 247.17 276.18 246.2 279.8 245.4 C283.42 244.6 288.13 243.7 291.7 243 C295.27 242.3 298.82 241.7 301.2 241.2 C303.58 240.7 304.63 240.37 306 240 C307.37 239.63 308.83 239.17 309.4 239" stroke="#2a0000" stroke-width="0.85" fill="none" stroke-dasharray="2.2,0.9"/>
<line x1="226.9" y1="198.2" x2="234" y2="186.2" stroke="#333" stroke-width="0.8" stroke-dasharray="1.6,1.1"/>
<text x="219.4" y="209.6" font-size="10" text-anchor="start" fill="#222" color="#222" font-family="'Liberation Sans', Arial, sans-serif" >fit</text>
<rect x="202.1" y="145.4" width="107.5" height="108.1" fill="none" stroke="#555" stroke-width="0.9"/>
<text x="235.5" y="156.4" font-size="7.8" text-anchor="start" fill="#111" color="#111" font-family="'Liberation Sans', Arial, sans-serif"  textLength="70.2" lengthAdjust="spacingAndGlyphs">&#8463;<tspan font-style="italic">&#969;</tspan><tspan font-size="4.4" dy="1.4" font-style="italic">p</tspan><tspan dy="-1.4"> = 0.92 &#177; 0.02 eV</tspan></text>
<text x="234" y="168.2" font-size="7.8" text-anchor="start" fill="#111" color="#111" font-family="'Liberation Sans', Arial, sans-serif"  textLength="71.7" lengthAdjust="spacingAndGlyphs">&#8463;/<tspan font-style="italic">&#964;</tspan><tspan font-size="4.4" dy="1.4" font-style="italic">p</tspan><tspan dy="-1.4"> = 0.13 &#177; 0.01 eV</tspan></text>
<text x="241.8" y="180" font-size="7.8" text-anchor="start" fill="#111" color="#111" font-family="'Liberation Sans', Arial, sans-serif"  textLength="44.2" lengthAdjust="spacingAndGlyphs"><tspan font-style="italic">&#949;</tspan><tspan font-size="4.4" dy="1.4">&#8734;</tspan><tspan dy="-1.4"> = 4.4 &#177; 0.2</tspan></text>
<text x="187.9" y="160.1" font-size="7.4" text-anchor="start" fill="#333" color="#333" font-family="'Liberation Sans', Arial, sans-serif"  textLength="10.8" lengthAdjust="spacingAndGlyphs">0.8</text>
<text x="187.9" y="184.1" font-size="7.4" text-anchor="start" fill="#333" color="#333" font-family="'Liberation Sans', Arial, sans-serif"  textLength="10.8" lengthAdjust="spacingAndGlyphs">0.6</text>
<text x="187.9" y="208.1" font-size="7.4" text-anchor="start" fill="#333" color="#333" font-family="'Liberation Sans', Arial, sans-serif"  textLength="10.8" lengthAdjust="spacingAndGlyphs">0.4</text>
<text x="187.9" y="232.1" font-size="7.4" text-anchor="start" fill="#333" color="#333" font-family="'Liberation Sans', Arial, sans-serif"  textLength="10.8" lengthAdjust="spacingAndGlyphs">0.2</text>
<text x="199.2" y="256.1" font-size="7.4" text-anchor="end" fill="#333" color="#333" font-family="'Liberation Sans', Arial, sans-serif" >0</text>
<text x="202.1" y="262.8" font-size="6.9" text-anchor="middle" fill="#333" color="#333" font-family="'Liberation Sans', Arial, sans-serif" >0</text>
<text x="228.97" y="262.8" font-size="6.9" text-anchor="middle" fill="#333" color="#333" font-family="'Liberation Sans', Arial, sans-serif" >2000</text>
<text x="255.85" y="262.8" font-size="6.9" text-anchor="middle" fill="#333" color="#333" font-family="'Liberation Sans', Arial, sans-serif" >4000</text>
<text x="282.73" y="262.8" font-size="6.9" text-anchor="middle" fill="#333" color="#333" font-family="'Liberation Sans', Arial, sans-serif" >6000</text>
<text x="309.6" y="262.8" font-size="6.9" text-anchor="middle" fill="#333" color="#333" font-family="'Liberation Sans', Arial, sans-serif" >8000</text>
<text x="221" y="276.2" font-size="7.8" text-anchor="start" fill="#222" color="#222" font-family="'Liberation Sans', Arial, sans-serif" style="stroke-width:0.08px" textLength="70" lengthAdjust="spacingAndGlyphs">Wave number (cm<tspan font-size="4.4" dy="-2.8">-1</tspan><tspan dy="2.8">)</tspan></text>
<g transform="translate(184.3,220) rotate(-90)"><text x="0" y="0" font-size="8.2" text-anchor="start" fill="#222" color="#222" font-family="'Liberation Sans', Arial, sans-serif" style="stroke-width:0.08px" textLength="44.4" lengthAdjust="spacingAndGlyphs">Reflectance</text></g>
<defs><linearGradient id="cb" x1="0" x2="1" y1="0" y2="0"><stop offset="0" stop-color="#202878"/><stop offset="0.12" stop-color="#24348e"/><stop offset="0.22" stop-color="#2c4a9e"/><stop offset="0.3" stop-color="#3276c0"/><stop offset="0.36" stop-color="#38aae6"/><stop offset="0.41" stop-color="#44c0ee"/><stop offset="0.47" stop-color="#6cc6b0"/><stop offset="0.54" stop-color="#94c862"/><stop offset="0.6" stop-color="#c4d43c"/><stop offset="0.66" stop-color="#f4d820"/><stop offset="0.73" stop-color="#f4ac24"/><stop offset="0.8" stop-color="#ec7a26"/><stop offset="0.87" stop-color="#e04a2a"/><stop offset="0.94" stop-color="#cc1e30"/><stop offset="1" stop-color="#8a0a22"/></linearGradient></defs>
<rect x="357" y="9.9" width="151.4" height="4.8" fill="url(#cb)"/>
<text x="360.2" y="7.5" font-size="7.2" text-anchor="middle" fill="#222" color="#222" font-family="'Liberation Sans', Arial, sans-serif" font-weight="bold">1</text>
<text x="505.1" y="7.5" font-size="7.2" text-anchor="middle" fill="#222" color="#222" font-family="'Liberation Sans', Arial, sans-serif" font-weight="bold">7</text>
<text x="405" y="27.3" font-size="9" text-anchor="start" fill="#111" color="#111" font-family="'Liberation Sans', Arial, sans-serif"  textLength="53.1" lengthAdjust="spacingAndGlyphs">Quality factor</text>
<clipPath id="ce"><rect x="363.9" y="33.1" width="148.2" height="110.2"/></clipPath>
<clipPath id="cf"><rect x="363.9" y="143.3" width="148.2" height="111.1"/></clipPath>
<g clip-path="url(#ce)">
<path d="M363.9 50.62 L364.57 51.29 L365.25 51.92 L365.92 52.54 L366.59 53.12 L367.27 53.68 L367.94 54.22 L368.62 54.74 L369.29 55.24 L369.96 55.73 L370.64 56.19 L371.31 56.65 L371.98 57.08 L372.66 57.51 L373.33 57.92 L374 58.32 L374.68 58.71 L375.35 59.09 L376.03 59.46 L376.7 59.82 L377.37 60.17 L378.05 60.51 L378.72 60.84 L379.39 61.17 L380.07 61.49 L380.74 61.8 L381.41 62.1 L382.09 62.4 L382.76 62.69 L383.44 62.98 L384.11 63.26 L384.78 63.54 L385.46 63.81 L386.13 64.07 L386.8 64.33 L387.48 64.59 L388.15 64.84 L388.82 65.08 L389.5 65.32 L390.17 65.56 L390.85 65.8 L391.52 66.03 L392.19 66.25 L392.87 66.48 L393.54 66.7 L394.21 66.91 L394.89 67.13 L395.56 67.34 L396.23 67.54 L396.91 67.75 L397.58 67.95 L398.26 68.15 L398.93 68.34 L399.6 68.54 L400.28 68.73 L400.95 68.92 L401.62 69.1 L402.3 69.28 L402.97 69.47 L403.64 69.64 L404.32 69.82 L404.99 69.99 L405.67 70.17 L406.34 70.34 L407.01 70.51 L407.69 70.67 L408.36 70.84 L409.03 71 L409.71 71.16 L410.38 71.32 L411.05 71.48 L411.73 71.63 L412.4 71.79 L413.08 71.94 L413.75 72.09 L414.42 72.24 L415.1 72.39 L415.77 72.53 L416.44 72.68 L417.12 72.82 L417.79 72.96 L418.46 73.1 L419.14 73.24 L419.81 73.38 L420.49 73.52 L421.16 73.65 L421.83 73.79 L422.51 73.92 L423.18 74.05 L423.85 74.18 L424.53 74.31 L425.2 74.44 L425.87 74.57 L426.55 74.7 L427.22 74.82 L427.9 74.94 L428.57 75.07 L429.24 75.19 L429.92 75.31 L430.59 75.43 L431.26 75.55 L431.94 75.67 L432.61 75.79 L433.28 75.9 L433.96 76.02 L434.63 76.13 L435.31 76.25 L435.98 76.36 L436.65 76.47 L437.33 76.58 L438 76.69 L438.67 76.8 L439.35 76.91 L440.02 77.02 L440.69 77.12 L441.37 77.23 L442.04 77.34 L442.72 77.44 L443.39 77.55 L444.06 77.65 L444.74 77.75 L445.41 77.85 L446.08 77.96 L446.76 78.06 L447.43 78.16 L448.1 78.26 L448.78 78.35 L449.45 78.45 L450.13 78.55 L450.8 78.65 L451.47 78.74 L452.15 78.84 L452.82 78.93 L453.49 79.03 L454.17 79.12 L454.84 79.22 L455.51 79.31 L456.19 79.4 L456.86 79.49 L457.54 79.58 L458.21 79.67 L458.88 79.76 L459.56 79.85 L460.23 79.94 L460.9 80.03 L461.58 80.12 L462.25 80.21 L462.92 80.29 L463.6 80.38 L464.27 80.46 L464.95 80.55 L465.62 80.63 L466.29 80.72 L466.97 80.8 L467.64 80.89 L468.31 80.97 L468.99 81.05 L469.66 81.14 L470.33 81.22 L471.01 81.3 L471.68 81.38 L472.36 81.46 L473.03 81.54 L473.7 81.62 L474.38 81.7 L475.05 81.78 L475.72 81.86 L476.4 81.93 L477.07 82.01 L477.74 82.09 L478.42 82.17 L479.09 82.24 L479.77 82.32 L480.44 82.4 L481.11 82.47 L481.79 82.55 L482.46 82.62 L483.13 82.7 L483.81 82.77 L484.48 82.84 L485.15 82.92 L485.83 82.99 L486.5 83.06 L487.18 83.13 L487.85 83.21 L488.52 83.28 L489.2 83.35 L489.87 83.42 L490.54 83.49 L491.22 83.56 L491.89 83.63 L492.56 83.7 L493.24 83.77 L493.91 83.84 L494.59 83.91 L495.26 83.98 L495.93 84.05 L496.61 84.11 L497.28 84.18 L497.95 84.25 L498.63 84.32 L499.3 84.38 L499.97 84.45 L500.65 84.52 L501.32 84.58 L502 84.65 L502.67 84.71 L503.34 84.78 L504.02 84.84 L504.69 84.91 L505.36 84.97 L506.04 85.04 L506.71 85.1 L507.38 85.16 L508.06 85.23 L508.73 85.29 L509.41 85.35 L510.08 85.42 L510.75 85.48 L511.43 85.54 L512.1 85.6" stroke="#7c7c7c" stroke-width="1.2" fill="none"/>
<path d="M363.9 53.1 L364.57 53.77 L365.25 54.41 L365.92 55.02 L366.59 55.61 L367.27 56.17 L367.94 56.71 L368.62 57.23 L369.29 57.73 L369.96 58.21 L370.64 58.68 L371.31 59.13 L371.98 59.57 L372.66 60 L373.33 60.41 L374 60.81 L374.68 61.2 L375.35 61.58 L376.03 61.94 L376.7 62.3 L377.37 62.65 L378.05 63 L378.72 63.33 L379.39 63.66 L380.07 63.97 L380.74 64.29 L381.41 64.59 L382.09 64.89 L382.76 65.18 L383.44 65.47 L384.11 65.75 L384.78 66.02 L385.46 66.29 L386.13 66.56 L386.8 66.82 L387.48 67.07 L388.15 67.32 L388.82 67.57 L389.5 67.81 L390.17 68.05 L390.85 68.28 L391.52 68.51 L392.19 68.74 L392.87 68.96 L393.54 69.18 L394.21 69.4 L394.89 69.61 L395.56 69.82 L396.23 70.03 L396.91 70.23 L397.58 70.44 L398.26 70.63 L398.93 70.83 L399.6 71.02 L400.28 71.21 L400.95 71.4 L401.62 71.59 L402.3 71.77 L402.97 71.95 L403.64 72.13 L404.32 72.31 L404.99 72.48 L405.67 72.65 L406.34 72.82 L407.01 72.99 L407.69 73.16 L408.36 73.32 L409.03 73.49 L409.71 73.65 L410.38 73.81 L411.05 73.96 L411.73 74.12 L412.4 74.27 L413.08 74.43 L413.75 74.58 L414.42 74.73 L415.1 74.87 L415.77 75.02 L416.44 75.16 L417.12 75.31 L417.79 75.45 L418.46 75.59 L419.14 75.73 L419.81 75.87 L420.49 76 L421.16 76.14 L421.83 76.27 L422.51 76.41 L423.18 76.54 L423.85 76.67 L424.53 76.8 L425.2 76.93 L425.87 77.06 L426.55 77.18 L427.22 77.31 L427.9 77.43 L428.57 77.55 L429.24 77.68 L429.92 77.8 L430.59 77.92 L431.26 78.04 L431.94 78.15 L432.61 78.27 L433.28 78.39 L433.96 78.5 L434.63 78.62 L435.31 78.73 L435.98 78.84 L436.65 78.96 L437.33 79.07 L438 79.18 L438.67 79.29 L439.35 79.4 L440.02 79.5 L440.69 79.61 L441.37 79.72 L442.04 79.82 L442.72 79.93 L443.39 80.03 L444.06 80.14 L444.74 80.24 L445.41 80.34 L446.08 80.44 L446.76 80.54 L447.43 80.64 L448.1 80.74 L448.78 80.84 L449.45 80.94 L450.13 81.04 L450.8 81.13 L451.47 81.23 L452.15 81.32 L452.82 81.42 L453.49 81.51 L454.17 81.61 L454.84 81.7 L455.51 81.79 L456.19 81.89 L456.86 81.98 L457.54 82.07 L458.21 82.16 L458.88 82.25 L459.56 82.34 L460.23 82.43 L460.9 82.52 L461.58 82.6 L462.25 82.69 L462.92 82.78 L463.6 82.86 L464.27 82.95 L464.95 83.04 L465.62 83.12 L466.29 83.21 L466.97 83.29 L467.64 83.37 L468.31 83.46 L468.99 83.54 L469.66 83.62 L470.33 83.7 L471.01 83.78 L471.68 83.87 L472.36 83.95 L473.03 84.03 L473.7 84.11 L474.38 84.19 L475.05 84.26 L475.72 84.34 L476.4 84.42 L477.07 84.5 L477.74 84.58 L478.42 84.65 L479.09 84.73 L479.77 84.81 L480.44 84.88 L481.11 84.96 L481.79 85.03 L482.46 85.11 L483.13 85.18 L483.81 85.26 L484.48 85.33 L485.15 85.4 L485.83 85.48 L486.5 85.55 L487.18 85.62 L487.85 85.69 L488.52 85.76 L489.2 85.84 L489.87 85.91 L490.54 85.98 L491.22 86.05 L491.89 86.12 L492.56 86.19 L493.24 86.26 L493.91 86.33 L494.59 86.4 L495.26 86.46 L495.93 86.53 L496.61 86.6 L497.28 86.67 L497.95 86.74 L498.63 86.8 L499.3 86.87 L499.97 86.94 L500.65 87 L501.32 87.07 L502 87.13 L502.67 87.2 L503.34 87.26 L504.02 87.33 L504.69 87.39 L505.36 87.46 L506.04 87.52 L506.71 87.59 L507.38 87.65 L508.06 87.71 L508.73 87.78 L509.41 87.84 L510.08 87.9 L510.75 87.97 L511.43 88.03 L512.1 88.09" stroke="#111" stroke-width="1.55" fill="none"/>
<path d="M364.1 70.3 C365.08 71.35 367.97 74.73 370 76.6 C372.03 78.47 374.13 80.08 376.3 81.5 C378.47 82.92 380.6 84 383 85.1 C385.4 86.2 387.03 86.82 390.7 88.1 C394.37 89.38 399.78 91.13 405 92.8 C410.22 94.47 416.17 96.3 422 98.1 C427.83 99.9 434.5 101.93 440 103.6 C445.5 105.27 450.12 106.58 455 108.1 C459.88 109.62 464.52 111.1 469.3 112.7 C474.08 114.3 479.38 116.1 483.7 117.7 C488.02 119.3 491.62 120.85 495.2 122.3 C498.78 123.75 503.53 125.72 505.2 126.4" stroke="#e0363c" stroke-width="1.35" fill="none"/>
</g>
<g clip-path="url(#cf)">
<line x1="363.9" y1="252" x2="512.1" y2="252" stroke="#7c7c7c" stroke-width="0.9"/>
<line x1="363.9" y1="251.3" x2="512.1" y2="251.3" stroke="#1a1a1a" stroke-width="1.15"/>
<path d="M364.1 245.22 L365.6 245.16 L367.1 245.1 L368.6 245.04 L370.1 244.98 L371.6 244.91 L373.1 244.85 L374.6 244.78 L376.1 244.71 L377.6 244.63 L379.1 244.56 L380.6 244.48 L382.1 244.4 L383.6 244.32 L385.1 244.24 L386.6 244.15 L388.1 244.06 L389.6 243.97 L391.1 243.88 L392.6 243.78 L394.1 243.69 L395.6 243.59 L397.1 243.48 L398.6 243.38 L400.1 243.27 L401.6 243.15 L403.1 243.04 L404.6 242.92 L406.1 242.8 L407.6 242.67 L409.1 242.54 L410.6 242.41 L412.1 242.27 L413.6 242.13 L415.1 241.98 L416.6 241.83 L418.1 241.68 L419.6 241.52 L421.1 241.36 L422.6 241.19 L424.1 241.02 L425.6 240.84 L427.1 240.65 L428.6 240.46 L430.1 240.27 L431.6 240.07 L433.1 239.86 L434.6 239.64 L436.1 239.42 L437.6 239.19 L439.1 238.95 L440.6 238.71 L442.1 238.46 L443.6 238.19 L445.1 237.92 L446.6 237.64 L448.1 237.35 L449.6 237.05 L451.1 236.74 L452.6 236.41 L454.1 236.08 L455.6 235.73 L457.1 235.37 L458.6 234.99 L460.1 234.6 L461.6 234.2 L463.1 233.77 L464.6 233.33 L466.1 232.88 L467.6 232.4 L469.1 231.9 L470.6 231.38 L472.1 230.83 L473.6 230.27 L475.1 229.67 L476.6 229.05 L478.1 228.39 L479.6 227.71 L481.1 226.99 L482.6 226.23 L484.1 225.43 L485.6 224.59 L487.1 223.7 L488.6 222.76 L490.1 221.77 L491.6 220.71 L493.1 219.59 L494.6 218.41 L496.1 217.14 L497.6 215.79 L499.1 214.34 L500.6 212.79 L502.1 211.13 L503.6 209.34 L505.1 207.4 L505.2 207.27" stroke="#e0363c" stroke-width="1.35" fill="none"/>
</g>
<circle cx="371.3" cy="87.9" r="1.85" fill="#4aa8d8" opacity="0.9"/>
<circle cx="376.3" cy="87.9" r="1.85" fill="#44acdc" opacity="0.9"/>
<circle cx="376.3" cy="83.6" r="1.85" fill="#6ab4d4" opacity="0.9"/>
<circle cx="381.4" cy="85.1" r="1.85" fill="#56b8c4" opacity="0.9"/>
<circle cx="385" cy="86.5" r="1.85" fill="#58b6c2" opacity="0.9"/>
<circle cx="385" cy="89.4" r="1.85" fill="#40b0e0" opacity="0.9"/>
<circle cx="386.4" cy="92.2" r="1.85" fill="#3eb0e0" opacity="0.9"/>
<circle cx="388.5" cy="90.1" r="1.85" fill="#52b4d0" opacity="0.9"/>
<circle cx="391.4" cy="90.8" r="1.85" fill="#6ab8a8" opacity="0.9"/>
<circle cx="392.1" cy="93" r="1.85" fill="#48b0d8" opacity="0.9"/>
<circle cx="387.8" cy="97" r="1.85" fill="#88bc6a" opacity="0.9"/>
<circle cx="392.8" cy="98" r="1.85" fill="#6cb4a0" opacity="0.9"/>
<circle cx="397.9" cy="88.7" r="1.85" fill="#c4c870" opacity="0.9"/>
<circle cx="397.2" cy="97.3" r="1.85" fill="#70b6a0" opacity="0.9"/>
<circle cx="399.3" cy="102.3" r="1.85" fill="#5eaaa8" opacity="0.9"/>
<circle cx="404.3" cy="95.1" r="1.85" fill="#8cbc80" opacity="0.9"/>
<circle cx="410" cy="101.6" r="1.85" fill="#56b4c8" opacity="0.9"/>
<circle cx="412.2" cy="100.1" r="1.85" fill="#84c070" opacity="0.9"/>
<circle cx="414.4" cy="102.6" r="1.85" fill="#80c068" opacity="0.9"/>
<circle cx="416.5" cy="99.8" r="1.85" fill="#b8cc48" opacity="0.9"/>
<circle cx="418" cy="98.7" r="1.85" fill="#90c060" opacity="0.9"/>
<circle cx="400" cy="102.2" r="1.85" fill="#62b0b0" opacity="0.9"/>
<circle cx="421.8" cy="107.3" r="1.85" fill="#f0d428" opacity="0.9"/>
<circle cx="431.5" cy="104.5" r="1.85" fill="#96c064" opacity="0.9"/>
<circle cx="440.3" cy="106.1" r="1.85" fill="#b8c850" opacity="0.9"/>
<circle cx="445.2" cy="108" r="1.85" fill="#9ec060" opacity="0.9"/>
<circle cx="371.7" cy="233.8" r="1.85" fill="#40a0d8" opacity="0.9"/>
<circle cx="376.2" cy="237" r="1.85" fill="#40a8e0" opacity="0.9"/>
<circle cx="376.8" cy="241.9" r="1.85" fill="#5ab0b8" opacity="0.9"/>
<circle cx="382" cy="243" r="1.85" fill="#44b0dc" opacity="0.9"/>
<circle cx="385.9" cy="237" r="1.85" fill="#44b0dc" opacity="0.9"/>
<circle cx="385.9" cy="239.4" r="1.85" fill="#44b0dc" opacity="0.9"/>
<circle cx="388.5" cy="231.9" r="1.85" fill="#84b890" opacity="0.9"/>
<circle cx="393" cy="232.6" r="1.85" fill="#6cb4a0" opacity="0.9"/>
<circle cx="392.3" cy="239.1" r="1.85" fill="#58b0b8" opacity="0.9"/>
<circle cx="389.7" cy="241.3" r="1.85" fill="#5cb2b4" opacity="0.9"/>
<circle cx="398.1" cy="236.1" r="1.85" fill="#6cb49c" opacity="0.9"/>
<circle cx="399.2" cy="227.7" r="1.85" fill="#62b0a0" opacity="0.9"/>
<circle cx="397.5" cy="244.5" r="1.85" fill="#b8c860" opacity="0.9"/>
<circle cx="404.6" cy="240.6" r="1.85" fill="#60b0b0" opacity="0.9"/>
<circle cx="409.7" cy="233.5" r="1.85" fill="#6ab4a4" opacity="0.9"/>
<circle cx="413" cy="236.8" r="1.85" fill="#62b0ac" opacity="0.9"/>
<circle cx="414.3" cy="233.5" r="1.85" fill="#86bc70" opacity="0.9"/>
<circle cx="416.2" cy="236.1" r="1.85" fill="#8cbc68" opacity="0.9"/>
<circle cx="417.5" cy="239.4" r="1.85" fill="#b8d040" opacity="0.9"/>
<circle cx="420.7" cy="228.4" r="1.85" fill="#f0d430" opacity="0.9"/>
<circle cx="416" cy="235.5" r="1.85" fill="#90c060" opacity="0.9"/>
<circle cx="415" cy="239.2" r="1.85" fill="#a0c458" opacity="0.9"/>
<rect x="440.05" y="104.35" width="3.5" height="3.5" fill="#c0c840" opacity="0.9"/>
<rect x="451.15" y="101.85" width="3.5" height="3.5" fill="#c8d050" opacity="0.9"/>
<rect x="449.35" y="109.05" width="3.5" height="3.5" fill="#e8a238" opacity="0.9"/>
<rect x="459.45" y="109.05" width="3.5" height="3.5" fill="#b8c850" opacity="0.9"/>
<rect x="465.55" y="111.25" width="3.5" height="3.5" fill="#e89038" opacity="0.9"/>
<rect x="473.25" y="106.75" width="3.5" height="3.5" fill="#90b890" opacity="0.9"/>
<rect x="445.75" y="121.05" width="3.5" height="3.5" fill="#b0c060" opacity="0.9"/>
<rect x="458.35" y="120.15" width="3.5" height="3.5" fill="#a0b870" opacity="0.9"/>
<rect x="475.95" y="121.95" width="3.5" height="3.5" fill="#f0d030" opacity="0.9"/>
<rect x="494.25" y="121.95" width="3.5" height="3.5" fill="#d42040" opacity="0.9"/>
<rect x="503.75" y="116.25" width="3.5" height="3.5" fill="#f0d030" opacity="0.9"/>
<rect x="485.85" y="132.75" width="3.5" height="3.5" fill="#d0d040" opacity="0.9"/>
<rect x="448.65" y="135.95" width="3.5" height="3.5" fill="#60a8a0" opacity="0.9"/>
<rect x="435.05" y="125.35" width="3.5" height="3.5" fill="#70a880" opacity="0.9"/>
<rect x="445.85" y="121.65" width="3.5" height="3.5" fill="#b8c458" opacity="0.9"/>
<rect x="420.25" y="227.35" width="3.5" height="3.5" fill="#f0d430" opacity="0.9"/>
<rect x="429.35" y="234.35" width="3.5" height="3.5" fill="#b8c850" opacity="0.9"/>
<rect x="438.95" y="234.35" width="3.5" height="3.5" fill="#98c060" opacity="0.9"/>
<rect x="443.75" y="231.35" width="3.5" height="3.5" fill="#9cc060" opacity="0.9"/>
<rect x="449.35" y="229.35" width="3.5" height="3.5" fill="#e8a038" opacity="0.9"/>
<rect x="451.45" y="239.45" width="3.5" height="3.5" fill="#c0c850" opacity="0.9"/>
<rect x="459.45" y="231.35" width="3.5" height="3.5" fill="#b4c650" opacity="0.9"/>
<rect x="465.85" y="229.35" width="3.5" height="3.5" fill="#e89038" opacity="0.9"/>
<rect x="473.05" y="236.85" width="3.5" height="3.5" fill="#90bc6c" opacity="0.9"/>
<rect x="458.45" y="205.25" width="3.5" height="3.5" fill="#a0b868" opacity="0.9"/>
<rect x="476.15" y="205.25" width="3.5" height="3.5" fill="#f0d030" opacity="0.9"/>
<rect x="494.15" y="209.85" width="3.5" height="3.5" fill="#d42040" opacity="0.9"/>
<rect x="504.05" y="226.75" width="3.5" height="3.5" fill="#f0d030" opacity="0.9"/>
<rect x="435.25" y="163.35" width="3.5" height="3.5" fill="#70a890" opacity="0.9"/>
<rect x="485.95" y="156.55" width="3.5" height="3.5" fill="#e8d020" opacity="0.9"/>
<rect x="445.85" y="192.85" width="3.5" height="3.5" fill="#b0b848" opacity="0.9"/>
<path d="M363.9 117.85 h-1.4 M363.9 112.32 h-1.4 M363.9 108.4 h-1.4 M363.9 105.35 h-1.4 M363.9 102.87 h-1.4 M363.9 100.76 h-1.4 M363.9 98.94 h-1.4 M363.9 97.34 h-1.4 M363.9 86.45 h-1.4 M363.9 80.92 h-1.4 M363.9 77 h-1.4 M363.9 73.95 h-1.4 M363.9 71.47 h-1.4 M363.9 69.36 h-1.4 M363.9 67.54 h-1.4 M363.9 65.94 h-1.4 M363.9 55.05 h-1.4 M363.9 49.52 h-1.4 M363.9 45.6 h-1.4 M363.9 42.55 h-1.4 M363.9 40.07 h-1.4 M363.9 37.96 h-1.4 M363.9 36.14 h-1.4 M363.9 34.54 h-1.4 M363.9 136.75 h-1.4 M363.9 134.27 h-1.4 M363.9 132.16 h-1.4 M363.9 130.34 h-1.4 M363.9 128.74 h-1.4 M363.9 127.3 h-2.5 M363.9 95.9 h-2.5 M363.9 64.5 h-2.5 M363.9 33.1 h-2.5 M363.9 254.4 h-2.5 M363.9 232.18 h-2.5 M363.9 209.96 h-2.5 M363.9 187.74 h-2.5 M363.9 165.52 h-2.5 M363.9 143.3 h-2.5 M377.37 254.4 v2.5 M404.32 254.4 v2.5 M431.26 254.4 v2.5 M458.21 254.4 v2.5 M485.15 254.4 v2.5 M512.1 254.4 v2.5 M363.9 254.4 v2.5" stroke="#333" stroke-width="0.7" fill="none"/>
<rect x="363.9" y="33.1" width="148.2" height="221.3" fill="none" stroke="#333" stroke-width="0.9"/>
<line x1="363.9" y1="143.3" x2="512.1" y2="143.3" stroke="#333" stroke-width="0.9"/>
<rect x="434.8" y="35.6" width="74.6" height="43" rx="1" fill="#fff" fill-opacity="0.85" stroke="#ccc" stroke-width="0.6"/>
<line x1="438.4" y1="40.6" x2="450.5" y2="40.6" stroke="#7c7c7c" stroke-width="1.2"/>
<line x1="438.4" y1="49" x2="450.5" y2="49" stroke="#111" stroke-width="1.55"/>
<line x1="438.4" y1="57.4" x2="450.5" y2="57.4" stroke="#e0363c" stroke-width="1.35"/>
<circle cx="444.5" cy="65.6" r="1.8" fill="#5ab4c4"/>
<rect x="442.8" y="72.5" width="3.4" height="3.4" fill="#a8c058"/>
<text x="455.5" y="43" font-size="6.7" text-anchor="start" fill="#222" color="#222" font-family="'Liberation Sans', Arial, sans-serif"  textLength="20.2" lengthAdjust="spacingAndGlyphs">Photon</text>
<text x="455.5" y="51.4" font-size="6.7" text-anchor="start" fill="#222" color="#222" font-family="'Liberation Sans', Arial, sans-serif"  textLength="42.5" lengthAdjust="spacingAndGlyphs">Ag Waveguide</text>
<text x="455.5" y="59.8" font-size="6.7" text-anchor="start" fill="#222" color="#222" font-family="'Liberation Sans', Arial, sans-serif"  textLength="50.9" lengthAdjust="spacingAndGlyphs">BLSO Waveguide</text>
<text x="455.5" y="68" font-size="6.7" text-anchor="start" fill="#222" color="#222" font-family="'Liberation Sans', Arial, sans-serif"  textLength="31.4" lengthAdjust="spacingAndGlyphs">BLSO Rods</text>
<text x="455.5" y="76.6" font-size="6.7" text-anchor="start" fill="#222" color="#222" font-family="'Liberation Sans', Arial, sans-serif"  textLength="36" lengthAdjust="spacingAndGlyphs">BLSO Cubes</text>
<text x="347.2" y="35.6" font-size="7" text-anchor="start" fill="#222" color="#222" font-family="'Liberation Sans', Arial, sans-serif"  textLength="11.6" lengthAdjust="spacingAndGlyphs">10<tspan font-size="4.6" dy="-3.2">5</tspan></text>
<text x="347.2" y="67" font-size="7" text-anchor="start" fill="#222" color="#222" font-family="'Liberation Sans', Arial, sans-serif"  textLength="11.6" lengthAdjust="spacingAndGlyphs">10<tspan font-size="4.6" dy="-3.2">4</tspan></text>
<text x="347.2" y="98.4" font-size="7" text-anchor="start" fill="#222" color="#222" font-family="'Liberation Sans', Arial, sans-serif"  textLength="11.6" lengthAdjust="spacingAndGlyphs">10<tspan font-size="4.6" dy="-3.2">3</tspan></text>
<text x="347.2" y="129.8" font-size="7" text-anchor="start" fill="#222" color="#222" font-family="'Liberation Sans', Arial, sans-serif"  textLength="11.6" lengthAdjust="spacingAndGlyphs">10<tspan font-size="4.6" dy="-3.2">2</tspan></text>
<text x="359.2" y="146.2" font-size="8.2" text-anchor="end" fill="#222" color="#222" font-family="'Liberation Sans', Arial, sans-serif" >50</text>
<text x="359.2" y="168.42" font-size="8.2" text-anchor="end" fill="#222" color="#222" font-family="'Liberation Sans', Arial, sans-serif" >40</text>
<text x="359.2" y="190.64" font-size="8.2" text-anchor="end" fill="#222" color="#222" font-family="'Liberation Sans', Arial, sans-serif" >30</text>
<text x="359.2" y="212.86" font-size="8.2" text-anchor="end" fill="#222" color="#222" font-family="'Liberation Sans', Arial, sans-serif" >20</text>
<text x="359.2" y="235.08" font-size="8.2" text-anchor="end" fill="#222" color="#222" font-family="'Liberation Sans', Arial, sans-serif" >10</text>
<text x="359.2" y="257.3" font-size="8.2" text-anchor="end" fill="#222" color="#222" font-family="'Liberation Sans', Arial, sans-serif" >0</text>
<text x="364.5" y="266.2" font-size="8.2" text-anchor="middle" fill="#222" color="#222" font-family="'Liberation Sans', Arial, sans-serif" >50</text>
<text x="377.37" y="266.2" font-size="8.2" text-anchor="middle" fill="#222" color="#222" font-family="'Liberation Sans', Arial, sans-serif" >100</text>
<text x="404.32" y="266.2" font-size="8.2" text-anchor="middle" fill="#222" color="#222" font-family="'Liberation Sans', Arial, sans-serif" >200</text>
<text x="431.26" y="266.2" font-size="8.2" text-anchor="middle" fill="#222" color="#222" font-family="'Liberation Sans', Arial, sans-serif" >300</text>
<text x="458.21" y="266.2" font-size="8.2" text-anchor="middle" fill="#222" color="#222" font-family="'Liberation Sans', Arial, sans-serif" >400</text>
<text x="485.15" y="266.2" font-size="8.2" text-anchor="middle" fill="#222" color="#222" font-family="'Liberation Sans', Arial, sans-serif" >500</text>
<text x="512.1" y="266.2" font-size="8.2" text-anchor="middle" fill="#222" color="#222" font-family="'Liberation Sans', Arial, sans-serif" >600</text>
<text x="395.8" y="275.8" font-size="8.2" text-anchor="start" fill="#222" color="#222" font-family="'Liberation Sans', Arial, sans-serif"  textLength="84.6" lengthAdjust="spacingAndGlyphs">Plasmon Energy (meV)</text>
<g transform="translate(340.4,119) rotate(-90)"><text x="0" y="0" font-size="8.2" text-anchor="start" fill="#222" color="#222" font-family="'Liberation Sans', Arial, sans-serif"  textLength="63.5" lengthAdjust="spacingAndGlyphs">Wavelength (nm)</text></g>
<g transform="translate(344.6,233.2) rotate(-90)"><text x="0" y="0" font-size="8.2" text-anchor="start" fill="#222" color="#222" font-family="'Liberation Sans', Arial, sans-serif"  textLength="69.3" lengthAdjust="spacingAndGlyphs">Confinement ratio</text></g>
</svg></body></html>
